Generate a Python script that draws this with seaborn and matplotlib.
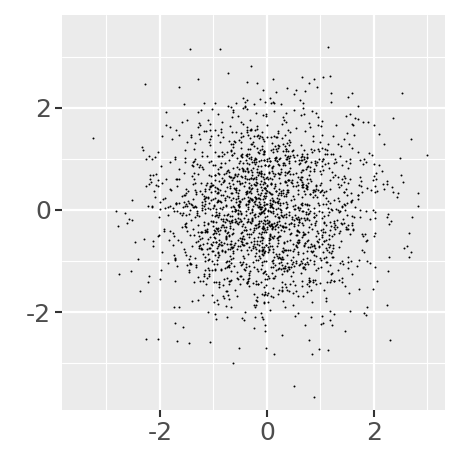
import numpy as np
import pandas as pd
import matplotlib
matplotlib.use("Agg")
import matplotlib.pyplot as plt
import seaborn as sns

# Standard-normal cloud (the reference is a plot of rnorm draws; ~2000 points)
rng = np.random.default_rng(7)
x_vals = rng.standard_normal(2000)
y_vals = rng.standard_normal(2000)
df = pd.DataFrame({"x": x_vals, "y": y_vals})

x_ticks = [-2, 0, 2]
y_ticks = [-2, 0, 2]

sns.set_style("darkgrid", {"axes.facecolor": "#EBEBEB", "grid.color": "white"})
plt.rcParams["axes.unicode_minus"] = False
fig = plt.figure(figsize=(4.74, 4.74), dpi=100)
ax = fig.add_axes([62/474, 64/474, 383/474, 395/474])
sns.scatterplot(data=df, x="x", y="y", s=2, color="black", linewidth=0, ax=ax)
ax.set_xlim(-3.83, 3.33)
ax.set_ylim(-3.92, 3.82)
ax.set_xticks(x_ticks)
ax.set_yticks(y_ticks)
ax.set_xticks([-3, -1, 1, 3], minor=True)
ax.set_yticks([-3, -1, 1, 3], minor=True)
ax.grid(which="major", color="white", linewidth=1.6)
ax.grid(which="minor", color="white", linewidth=0.8)
ax.set_xlabel("")
ax.set_ylabel("")
for s in ax.spines.values():
    s.set_visible(False)
ax.tick_params(which="major", bottom=True, left=True, length=5, width=1.5,
               color="#333333", labelsize=18, labelcolor="#4D4D4D", pad=3)
ax.tick_params(which="minor", bottom=False, left=False, length=0)
fig.savefig("out.png", dpi=100, facecolor="white")
